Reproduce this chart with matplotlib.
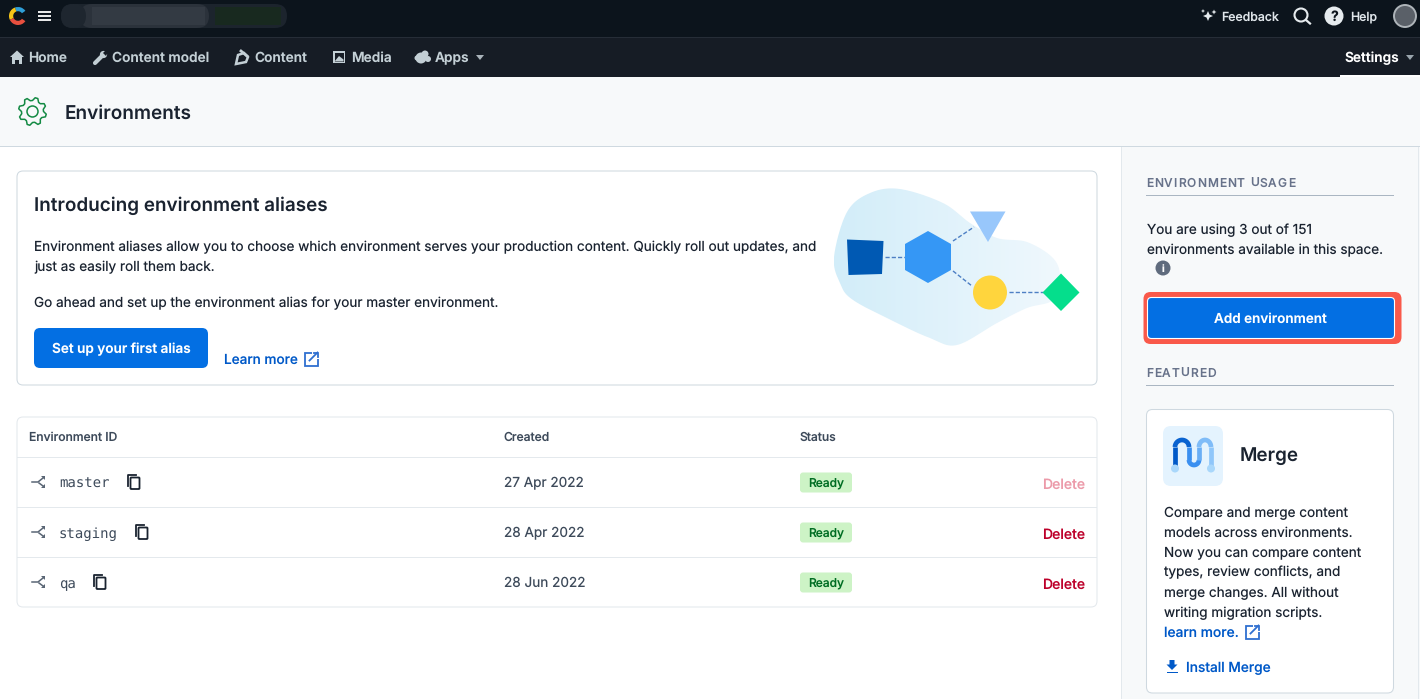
import matplotlib
matplotlib.use("Agg")
import matplotlib.pyplot as plt
import numpy as np
from matplotlib.font_manager import FontProperties
from matplotlib.patches import Circle, FancyBboxPatch, PathPatch, Polygon, Rectangle, Wedge
from matplotlib.path import Path
from matplotlib.textpath import TextPath

plt.rcParams["font.family"] = ["Inter", "DejaVu Sans"]
plt.rcParams["text.hinting"] = "no_hinting"
plt.rcParams["text.hinting_factor"] = 1

NAV_LABELS = ["Home", "Content model", "Content", "Media", "Apps"]
TOP_LABELS = ["Feedback", "Help"]
ENV_IDS = ["master", "staging", "qa"]
ENV_DATES = ["27 Apr 2022", "28 Apr 2022", "28 Jun 2022"]
ENV_STATUS = ["Ready", "Ready", "Ready"]
TABLE_HEADERS = ["Environment ID", "Created", "Status"]
MERGE_LINES = [
    "Compare and merge content",
    "models across environments.",
    "Now you can compare content",
    "types, review conflicts, and",
    "merge changes. All without",
    "writing migration scripts.",
]
INTRO_LINES = [
    "Environment aliases allow you to choose which environment serves your production content. Quickly roll out updates, and",
    "just as easily roll them back.",
]

NAV_X = [28, 112, 254, 351, 435]
ROW_Y = [482, 532, 582]
COPY_X = [134, 142, 100]

DARK = "#0c141c"
NAV_BG = "#161c25"
INK = "#1a2330"
BLUE = "#036fe3"
LINK = "#0059c8"
LINE = "#cfd9e0"
PALE = "#f7f9fa"
NAV_TEXT = "#c3cfd5"
BODY = 13.57
HEAD = 18.9

fig = plt.figure(figsize=(14.2, 6.99), dpi=100, facecolor="white")
ax = fig.add_axes([0, 0, 1, 1])
ax.set_xlim(0, 1420)
ax.set_ylim(699, 0)
ax.axis("off")


def rect(x0, y0, x1, y1, color, z=1):
    ax.add_patch(Rectangle((x0, y0), x1 - x0, y1 - y0, fc=color, ec="none", zorder=z))


def rbox(x0, y0, x1, y1, r, fc, ec="none", lw=0.75, z=2):
    ax.add_patch(FancyBboxPatch((x0 + r, y0 + r), x1 - x0 - 2 * r, y1 - y0 - 2 * r,
                                boxstyle=f"round,pad={r},rounding_size={r}",
                                fc=fc, ec=ec, lw=lw, zorder=z))


def label(x, y, s, px=14, color=INK, weight="normal", ha="left", family=None):
    # y is the middle of the capitals, so every row shares one baseline
    kw = {"family": family} if family else {}
    ax.text(x, y + 0.36 * px, s, fontsize=px * 0.72, color=color, fontweight=weight, ha=ha,
            va="baseline", zorder=6, **kw)


def spaced(x, y, s, px, gap, color):
    # letter spaced caps, no such option on ax.text
    fp = FontProperties(family="Inter", size=px * 0.72, weight="medium")
    bar = TextPath((0, 0), "H", prop=fp).get_extents().x1
    for i, ch in enumerate(s):
        w = TextPath((0, 0), s[:i] + "H", prop=fp).get_extents().x1 - bar
        ax.text(x + w / 0.72 + gap * i, y + 0.36 * px, ch, fontsize=px * 0.72, color=color,
                fontweight="medium", va="baseline", zorder=6)


def smooth_closed(points, n=24):
    pts = np.array(points, dtype=float)
    out = []
    for i in range(len(pts)):
        p0, p1, p2, p3 = pts[i - 1], pts[i], pts[(i + 1) % len(pts)], pts[(i + 2) % len(pts)]
        for t in np.linspace(0, 1, n, endpoint=False):
            out.append(0.5 * (2 * p1 + (p2 - p0) * t + (2 * p0 - 5 * p1 + 4 * p2 - p3) * t ** 2
                              + (3 * p1 - p0 - 3 * p2 + p3) * t ** 3))
    return np.array(out)


def external_icon(x, y, color):
    ax.add_patch(Polygon([(x + 7, y), (x, y), (x, y + 13), (x + 13, y + 13), (x + 13, y + 6)],
                         closed=False, fc="none", ec=color, lw=1.3, zorder=6))
    ax.plot([x + 5, x + 13], [y + 8, y], color=color, lw=1.3, zorder=6)
    ax.plot([x + 9, x + 13.5, x + 13.5], [y, y, y + 4.5], color=color, lw=1.3, zorder=6)


def caret(x, y, color):
    ax.add_patch(Polygon([(x - 4, y - 2.5), (x + 4, y - 2.5), (x, y + 2.5)], fc=color, ec="none", zorder=6))


def copy_icon(x, y):
    ax.plot([x - 6, x - 6, x + 2], [y + 4, y - 7, y - 7], color=INK, lw=1.3, zorder=6)
    rbox(x - 3.5, y - 4.5, x + 5.5, y + 7, 0.8, "white", ec=INK, lw=1.3, z=6)


def branch_icon(x, y):
    c = "#5a6675"
    ax.plot([x - 6, x, x + 5], [y, y, y - 4], color=c, lw=1.1, zorder=6)
    ax.plot([x + 1, x + 5], [y + 1, y + 4], color=c, lw=1.1, zorder=6)
    ax.add_patch(Polygon([(x + 3, y - 6), (x + 7, y - 6), (x + 7, y - 2)], fc=c, ec="none", zorder=6))
    ax.add_patch(Polygon([(x + 3, y + 6), (x + 7, y + 6), (x + 7, y + 2)], fc=c, ec="none", zorder=6))


def merge_segment(xs, ys, color):
    ax.plot(xs, ys, color=color, lw=3.4, zorder=5, solid_capstyle="butt")


# page bands
rect(0, 0, 1420, 37, DARK)
rect(0, 37, 1420, 38, "#262d37")
rect(0, 38, 1420, 77, NAV_BG)
rect(0, 77, 1420, 146, PALE)
rect(0, 146, 1420, 147, LINE)
rect(1121, 147, 1420, 699, PALE)
rect(1121, 147, 1122, 699, "#e3e9ed")
rect(1418, 147, 1419, 699, "#e3e9ed")

# logo
for a0, a1, col in [(35, 110, "#2f9fd8"), (110, 205, "#f5c518"), (205, 325, "#e8503f")]:
    ax.add_patch(Wedge((18, 16), 9, -a1, -a0, width=4.2, fc=col, ec="none", zorder=6))
for y in [12, 16, 20]:
    ax.plot([37.5, 51], [y, y], color="white", lw=1.3, zorder=6, solid_capstyle="butt")

# blurred account pills
rbox(61, 4, 287, 28, 12, "#1c242d")
rbox(80, 4, 209, 28, 12, "#2b323b")
rbox(61, 4, 86, 28, 12, "#1e262f")
rect(92, 7, 205, 25, "#333a43", z=3)
rect(215, 7, 281, 25, "#18291f", z=3)

# top right
label(1221, 16.5, TOP_LABELS[0], 12.3, "#dfe5e9", "medium")
for cx, cy, s in [(1208, 16, 5), (1214, 12, 2.5), (1203, 11, 2)]:
    ax.add_patch(Polygon([(cx, cy - s), (cx + s * .3, cy - s * .3), (cx + s, cy), (cx + s * .3, cy + s * .3),
                          (cx, cy + s), (cx - s * .3, cy + s * .3), (cx - s, cy), (cx - s * .3, cy - s * .3)],
                         fc="#e6ebee", ec="none", zorder=6))
ax.add_patch(Circle((1301, 15), 6.5, fc="none", ec="#e6ebee", lw=1.5, zorder=6))
ax.plot([1306, 1310], [20, 23.5], color="#e6ebee", lw=1.6, zorder=6)
ax.add_patch(Circle((1334, 16), 9.5, fc="#e6ebee", ec="none", zorder=6))
label(1334, 16, "?", 14, DARK, "bold", ha="center")
label(1350, 16.5, TOP_LABELS[1], 12.3, "#dfe5e9", "medium")
ax.add_patch(Circle((1405, 16), 11, fc="#5a6068", ec="#aeb4b9", lw=1.4, zorder=6))

# nav row
for x, s in zip(NAV_X, NAV_LABELS):
    label(x, 57, s, 13.7, NAV_TEXT, "semibold")
caret(480, 57.5, "#aab4bb")
label(1344, 57, "Settings", 13.7, "white", "semibold")
caret(1410, 57.5, "#9aa5ad")
rect(1340, 75, 1420, 77, "white", z=3)

# nav icons
ax.add_patch(Polygon([(10, 57), (17, 50.5), (24, 57), (22, 57), (22, 64), (19, 64), (19, 60), (15, 60), (15, 64), (12, 64), (12, 57)],
                     fc=NAV_TEXT, ec="none", zorder=6))
ax.plot([95, 103], [63, 55], color=NAV_TEXT, lw=3, zorder=6, solid_capstyle="round")
ax.add_patch(Circle((103.5, 54.5), 3.6, fc=NAV_TEXT, ec="none", zorder=6))
ax.add_patch(Polygon([(103, 53), (106, 50), (108, 52), (106, 56)], fc=NAV_BG, ec="none", zorder=6))
ax.add_patch(Polygon([(236, 64), (238, 55), (244, 53), (248, 57), (246, 62)], fc=NAV_BG, ec=NAV_TEXT, lw=1.8, zorder=6))
ax.plot([241, 247], [51, 56], color=NAV_TEXT, lw=2, zorder=6)
rect(333, 51, 345, 63, NAV_TEXT, z=5)
rect(334.5, 52.5, 343.5, 61.5, NAV_BG, z=5)
ax.add_patch(Polygon([(334.5, 61.5), (339, 56), (343.5, 59.5), (343.5, 61.5)], fc=NAV_TEXT, ec="none", zorder=6))
ax.add_patch(Circle((421, 58), 5.5, fc=NAV_TEXT, ec="none", zorder=6))
ax.add_patch(Circle((425, 54), 3.5, fc=NAV_TEXT, ec="none", zorder=6))
ax.add_patch(Circle((428, 59), 3.0, fc=NAV_TEXT, ec="none", zorder=6))
ax.add_patch(Circle((417, 58), 2.5, fc=NAV_TEXT, ec="none", zorder=6))

# page title and gear
n_teeth = 8
ang = np.linspace(0, 2 * np.pi, n_teeth * 4, endpoint=False) + np.pi / 8 - 0.2
rad = np.tile([14, 14, 11, 11], n_teeth)
ax.add_patch(Polygon(np.c_[32.5 + rad * np.cos(ang), 111.5 + rad * np.sin(ang)], fc="none", ec="#138a43",
                     lw=1.1, joinstyle="round", zorder=6))
ax.add_patch(Circle((32.5, 111.5), 5.5, fc="none", ec="#138a43", lw=1.1, zorder=6))
label(65, 112, "Environments", 19, INK, "semibold")

# intro card
rbox(17, 171, 1097, 385, 6, "white", ec=LINE)
label(34, 204, "Introducing environment aliases", HEAD, INK, "semibold")
label(34, 246, INTRO_LINES[0], BODY, INK)
label(34, 266, INTRO_LINES[1], BODY, INK)
label(34, 302, "Go ahead and set up the environment alias for your master environment.", BODY, INK)
rbox(34, 328, 208, 368, 6, BLUE)
label(121, 348, "Set up your first alias", 13.6, "white", "semibold", ha="center")
label(224, 359, "Learn more", 13.6, LINK, "medium")
external_icon(304.5, 352.5, "#2f6fd0")

# illustration
blob_pts = [(834, 257), (847, 212), (870, 193), (900, 189), (943, 203), (970, 223), (997, 238), (1027, 242),
            (1053, 258), (1060, 277), (1053, 300), (1027, 308), (997, 323), (957, 345), (930, 338), (897, 323),
            (853, 300), (840, 283)]
blob = smooth_closed(blob_pts)
im = ax.imshow(np.linspace(0, 1, 256)[None, :], extent=(834, 1062, 346, 188), aspect="auto", zorder=3,
               cmap=matplotlib.colors.LinearSegmentedColormap.from_list("blob", ["#d2edf9", "#f0f8fd"]))
im.set_clip_path(PathPatch(Path(blob), transform=ax.transData))
ax.set_xlim(0, 1420)
ax.set_ylim(699, 0)
for xs, ys in [((885, 905), (257, 257)), ((953, 974), (241, 227)), ((953, 972), (271, 286)), ((1009, 1043), (292, 292))]:
    ax.plot(xs, ys, color="#4d7fc4", lw=1, ls=(0, (3, 1.5)), zorder=4)
ax.add_patch(Polygon([(847, 239.5), (883.5, 241), (882, 274), (848.5, 275)], fc="#0059b3", ec="none", zorder=5))
ax.add_patch(Polygon([(928, 231), (951, 244), (951, 270), (928, 283), (905, 270), (905, 244)], fc="#3597f5", ec="none", zorder=5))
ax.add_patch(Polygon([(970, 211.5), (1005.5, 211.5), (988, 242)], fc="#98c7fb", ec="none", zorder=5))
ax.add_patch(Circle((990, 292.5), 17, fc="#ffd53d", ec="none", zorder=5))
ax.add_patch(Polygon([(1061, 273.5), (1079.5, 292.5), (1061, 311), (1042.5, 292.5)], fc="#05de8c", ec="none", zorder=5))

# environments table
rbox(17, 417, 1097, 607, 6, "white", ec="#e4e9ed")
for y in [457, 507, 557]:
    rect(17, y, 1097, y + 1, "#e4e9ed", z=3)
for x, s in zip([29, 503.5, 800], TABLE_HEADERS):
    label(x, 436.5, s, 12.1, "#3d4a5a", "medium")
for i, y in enumerate(ROW_Y):
    branch_icon(38, y)
    label(59, y + 0.6, ENV_IDS[i], 14, "#3d4a5a", family="DejaVu Sans Mono")
    copy_icon(COPY_X[i], y)
    label(504, y, ENV_DATES[i], 13.6, "#3d4a5a")
    rbox(800, y - 9.5, 852, y + 10.5, 3, "#cdf3c6")
    label(826, y + 1.2, ENV_STATUS[i], 12, "#006d23", "medium", ha="center")
    label(1085.5, y + 2, "Delete", 14, "#ec9aa9" if i == 0 else "#bd002a", "medium", ha="right")

# sidebar usage
spaced(1146, 183, "ENVIRONMENT USAGE", 12, 0.95, "#67728a")
rect(1146, 195, 1394, 196, "#aab6c2")
label(1147, 229, "You are using 3 out of 151", BODY, INK)
label(1147, 249, "environments available in this space.", BODY, INK)
ax.add_patch(Circle((1163, 268), 7.5, fc="#5f6b7d", ec="none", zorder=6))
label(1163, 268, "i", 10, "white", "bold", ha="center")
rbox(1143.5, 292, 1401.5, 344, 7, "#f9594a", z=3)
rbox(1147.5, 297.5, 1394.5, 338.5, 4, BLUE, ec="white", lw=0.8, z=4)
label(1270.5, 318, "Add environment", 13.5, "white", "semibold", ha="center")
spaced(1146, 372.5, "FEATURED", 12, 0.95, "#67728a")
rect(1146, 385, 1394, 386, "#aab6c2")

# merge card
rbox(1146.5, 409.5, 1393.5, 693, 6, "white", ec=LINE)
rbox(1163, 426, 1223, 486, 8, "#e4f3fe", z=3)
t = np.linspace(np.pi, 0, 30)
merge_segment([1175, 1175], [468, 447], "#0059c8")
merge_segment(1182 + 7 * np.cos(t), 447 - 7 * np.sin(t), "#0a63d0")
merge_segment([1189, 1189], [447, 460], "#3a8ff0")
merge_segment(1194 + 5 * np.cos(t), 460 + 5 * np.sin(t), "#3a8ff0")
merge_segment([1199, 1199], [460, 447], "#69aef5")
merge_segment(1205 + 6 * np.cos(t), 447 - 7 * np.sin(t), "#7fbcf8")
merge_segment([1211, 1211], [447, 468], "#8fc6fa")
ax.add_patch(Circle((1175, 468.5), 4, fc="#a9d7fb", ec="none", zorder=6))
ax.add_patch(Circle((1211, 468.5), 4, fc="#a9d7fb", ec="none", zorder=6))
label(1240, 454, "Merge", HEAD, INK, "semibold")
for i, s in enumerate(MERGE_LINES):
    label(1164, 511.7 + 20 * i, s, BODY, INK)
label(1164, 632, "learn more.", 13.8, LINK, "medium")
external_icon(1245.5, 625.5, "#2f6fd0")
ax.add_patch(Polygon([(1169.5, 660), (1174.5, 660), (1174.5, 664.5), (1177.5, 664.5), (1172, 670), (1166.5, 664.5), (1169.5, 664.5)],
                     fc=LINK, ec="none", zorder=6))
rect(1166.5, 671.5, 1178, 673, LINK, z=6)
label(1186, 667, "Install Merge", 13.7, LINK, "medium")

fig.savefig("out.png", dpi=100)
